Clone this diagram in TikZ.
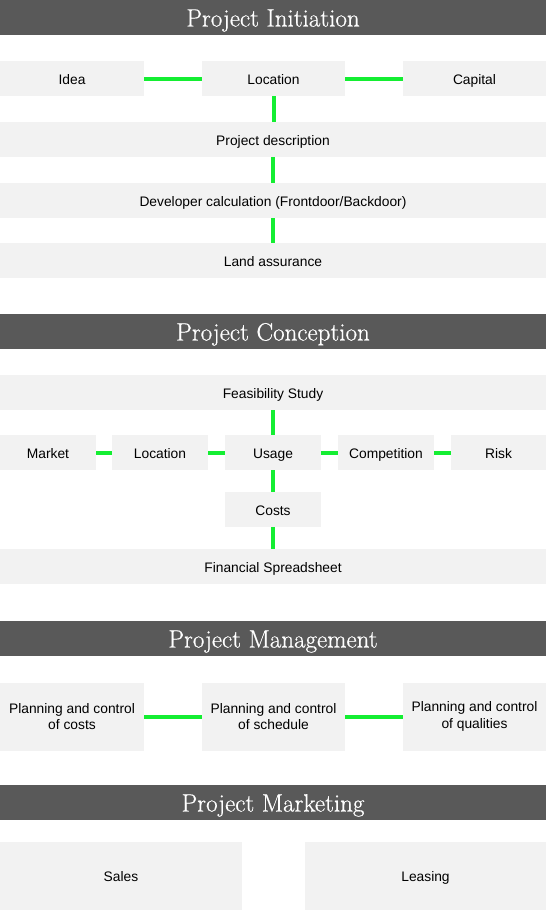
\documentclass[tikz,border=0pt]{standalone}
\usepackage{xcolor}
\usepackage{fontspec}
\setsansfont{Liberation Sans}
\newfontfamily\headfont[FakeBold=0.6]{Latin Modern Roman}
\usepackage{tikz}

\definecolor{headgray}{RGB}{89,89,89}
\definecolor{boxgray}{RGB}{242,242,242}
\definecolor{linkgreen}{RGB}{20,238,50}

\begin{document}
\begin{tikzpicture}[
			x=1pt, y=-1pt,
			every node/.style={inner sep=0pt, font=\sffamily\fontsize{13.8}{16.5}\selectfont, align=center},
			header/.style={fill=headgray, text=white, minimum width=546pt, minimum height=35pt, text height=20pt, text depth=2pt, font=\headfont\fontsize{25}{27}\selectfont},
			box/.style={fill=boxgray, minimum height=35pt, text height=12pt, text depth=1pt},
			bigbox/.style={fill=boxgray, minimum height=68pt},
			link/.style={draw=linkgreen, line width=4pt}
			]
			\fill[white] (0,0) rectangle (546,910);
			\useasboundingbox (0,0) rectangle (546,910);
			
			% Project initiation
			\node[header] (hdInit) at (273,17.5) {Project Initiation};
			\node[box, minimum width=144pt] (idea) at (72,78.5) {Idea};
			\node[box, minimum width=143pt] (locInit) at (273.5,78.5) {Location};
			\node[box, minimum width=143pt] (capital) at (474.5,78.5) {Capital};
			\node[box, minimum width=546pt] (desc) at (273,139.5) {Project description};
			\node[box, minimum width=546pt] (devcalc) at (273,200.5) {Developer calculation (Frontdoor/Backdoor)};
			\node[box, minimum width=546pt] (land) at (273,260.5) {Land assurance};
			
			\draw[link] (idea) -- (locInit);
			\draw[link] (locInit) -- (capital);
			\draw[link] (locInit.south) -- (locInit.south |- desc.north);
			\draw[link] (desc.south) -- (devcalc.north);
			\draw[link] (devcalc.south) -- (land.north);
			
			% Project conception
			\node[header] (hdConc) at (273,331.5) {Project Conception};
			\node[box, minimum width=546pt] (feas) at (273,392.5) {Feasibility Study};
			\node[box, minimum width=96pt] (market) at (48,452.5) {Market};
			\node[box, minimum width=96pt] (locConc) at (160,452.5) {Location};
			\node[box, minimum width=96pt] (usage) at (273,452.5) {Usage};
			\node[box, minimum width=96pt] (compet) at (386,452.5) {Competition};
			\node[box, minimum width=95pt] (risk) at (498.5,452.5) {Risk};
			\node[box, minimum width=96pt] (costs) at (273,509.5) {Costs};
			\node[box, minimum width=546pt] (finance) at (273,566.5) {Financial Spreadsheet};
			
			\draw[link] (market) -- (locConc);
			\draw[link] (locConc) -- (usage);
			\draw[link] (usage) -- (compet);
			\draw[link] (compet) -- (risk);
			\draw[link] (feas.south) -- (usage.north);
			\draw[link] (usage) -- (costs);
			\draw[link] (costs.south) -- (finance.north);
			
			% Project management
			\node[header] (hdMgmt) at (273,638.5) {Project Management};
			\node[bigbox, minimum width=144pt] (planCosts) at (72,716.5) {Planning and control\\of costs};
			\node[bigbox, minimum width=143pt] (planSched) at (273.5,716.5) {Planning and control\\of schedule};
			\node[bigbox, minimum width=143pt] (planQual) at (474.5,716.5) {Planning and control\\of qualities};
			
			\draw[link] (planCosts) -- (planSched);
			\draw[link] (planSched) -- (planQual);
			
			% Project marketing
			\node[header] (hdMark) at (273,802.5) {Project Marketing};
			\node[bigbox, minimum width=242pt, text height=12pt, text depth=1pt] (sales) at (121,876) {Sales};
			\node[bigbox, minimum width=241pt, text height=12pt, text depth=1pt] (leasing) at (425.5,876) {Leasing};
		\end{tikzpicture}
\end{document}
